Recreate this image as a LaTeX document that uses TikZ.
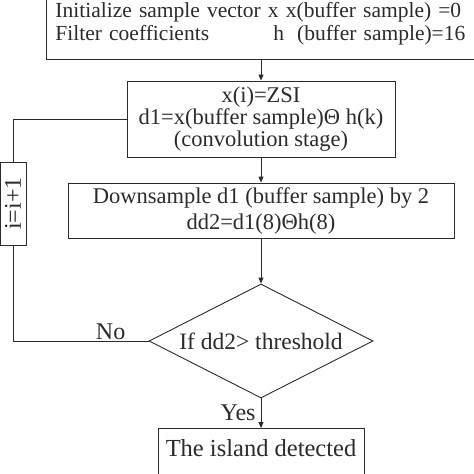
\documentclass[tikz,border=0pt]{standalone}
\usepackage{fontspec}
\setmainfont{Liberation Serif}
\usepackage{tikz}
\usetikzlibrary{positioning,arrows.meta,shapes.geometric}
\definecolor{strek}{HTML}{2B2B2B}

\begin{document}
\begin{tikzpicture}[x=1pt,y=-1pt,>={Triangle[length=6pt,width=5pt]}]
    \tikzset{
        procbox/.style={
            draw=strek,
            rectangle,
            line width=0.9pt,
            align=center,
            text=strek,
            font=\fontsize{22.5}{22}\selectfont
        },
        decbox/.style={
            draw=strek,
            diamond,
            aspect=2,
            line width=0.9pt,
            inner sep=0pt,
            minimum width=224pt,
            minimum height=114pt,
            text=strek,
            font=\fontsize{23.5}{24}\selectfont
        },
        flowarrow/.style={
            ->,
            draw=strek,
            line width=0.9pt
        },
        loopline/.style={
            draw=strek,
            line width=0.9pt
        },
        lab/.style={
            text=strek,
            font=\fontsize{24}{24}\selectfont
        }
    }
    \useasboundingbox (0,0) rectangle (474,474);

    % Process boxes
    \node[procbox, anchor=south west, align=left, text width=445pt,
          inner xsep=9pt, inner ysep=14pt, font=\fontsize{21.5}{23.3}\selectfont] (init) at (46,60)
        {Initialize sample vector x x(buffer sample) =0\\
         \makebox[218pt][l]{Filter coefficients}h\hspace{13pt}(buffer sample)=16};
    \node[procbox, minimum width=268pt, minimum height=76pt] (conv) at (261,119)
        {x(i)=ZSI\\ d1=x(buffer sample)Θ h(k)\\ (convolution stage)};
    \node[procbox, minimum width=386pt, minimum height=55pt,
          font=\fontsize{22.5}{26}\selectfont] (down) at (261,210.5)
        {Downsample d1 (buffer sample) by 2\\ dd2=d1(8)Θh(8)};
    \node[decbox] (cond) at (261,341) {If dd2> threshold};
    \node[procbox, anchor=north, minimum width=206pt, inner ysep=11pt,
          text depth=40pt, font=\fontsize{24.5}{24}\selectfont] (island) at (261,428)
        {The island detected};
    \node[procbox, rotate=90, minimum width=83pt, minimum height=26pt,
          inner sep=0pt, font=\fontsize{24}{24}\selectfont] (inc) at (13,203.5) {i=i+1};

    % Flow
    \draw[flowarrow] (init.south -| conv.north) -- (conv.north);
    \draw[flowarrow] (conv.south) -- (down.north);
    \draw[flowarrow] (down.south) -- (cond.north);
    \draw[flowarrow] (cond.south) -- node[lab, left, inner sep=5pt] {Yes} (island.north);

    % Loop back
    \draw[loopline] (cond.west) -- node[lab, above, pos=0.28, inner sep=1pt] {No} (cond.west -| inc.west) -- (inc.west);
    \draw[loopline] (inc.east) -- (inc.east |- conv.west) -- (conv.west);
\end{tikzpicture}
\end{document}
